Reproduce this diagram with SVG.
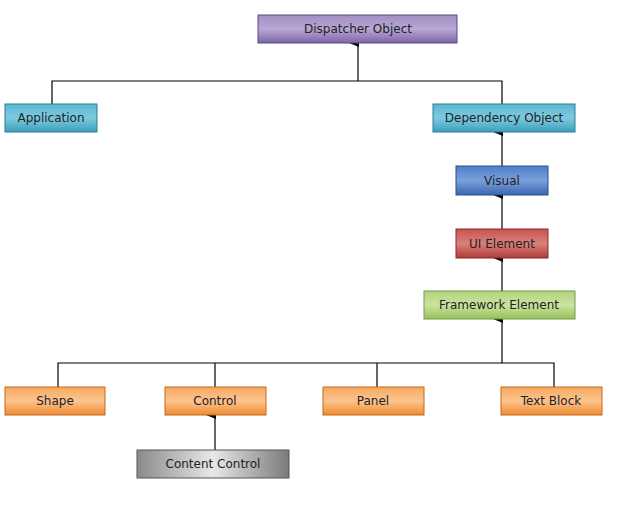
<svg xmlns="http://www.w3.org/2000/svg" width="628" height="506" viewBox="0 0 628 506">
<style>
text{font-family:"DejaVu Sans","Liberation Sans",sans-serif;font-size:12px;text-anchor:middle;fill:#222}
.c{stroke:#000;stroke-width:1.2;fill:none}
</style>
<defs>
<marker id="a" markerWidth="8" markerHeight="10" refX="4" refY="9" orient="auto-start-reverse" markerUnits="userSpaceOnUse" viewBox="0 0 8 10"><path d="M0,10 L4,0 L8,10 Z" fill="#000"/></marker>
<linearGradient id="pu" x1="0" y1="0" x2="0" y2="1"><stop offset="0" stop-color="#a28fc4"/><stop offset="0.5" stop-color="#b6a7d3"/><stop offset="1" stop-color="#7d66a8"/></linearGradient>
<linearGradient id="cy" x1="0" y1="0" x2="0" y2="1"><stop offset="0" stop-color="#5cb8d2"/><stop offset="0.5" stop-color="#7ccadf"/><stop offset="1" stop-color="#3b9fbd"/></linearGradient>
<linearGradient id="bl" x1="0" y1="0" x2="0" y2="1"><stop offset="0" stop-color="#4f7fc8"/><stop offset="0.5" stop-color="#7aa0dc"/><stop offset="1" stop-color="#3a66b0"/></linearGradient>
<linearGradient id="rd" x1="0" y1="0" x2="0" y2="1"><stop offset="0" stop-color="#c85450"/><stop offset="0.5" stop-color="#d9807c"/><stop offset="1" stop-color="#b03c38"/></linearGradient>
<linearGradient id="gr" x1="0" y1="0" x2="0" y2="1"><stop offset="0" stop-color="#b2d27a"/><stop offset="0.5" stop-color="#cbe39f"/><stop offset="1" stop-color="#98c05a"/></linearGradient>
<linearGradient id="or" x1="0" y1="0" x2="0" y2="1"><stop offset="0" stop-color="#f7a85e"/><stop offset="0.5" stop-color="#fbc48f"/><stop offset="1" stop-color="#f08a30"/></linearGradient>
<linearGradient id="gy" x1="0" y1="0" x2="1" y2="0"><stop offset="0" stop-color="#8a8a8a"/><stop offset="0.5" stop-color="#e8e8e8"/><stop offset="1" stop-color="#7a7a7a"/></linearGradient>
</defs>
<g id="connectors">
<path class="c" d="M52,104 V81 H502 V104"/>
<path class="c" d="M358,81 V43" marker-end="url(#a)"/>
<path class="c" d="M502,166 V132" marker-end="url(#a)"/>
<path class="c" d="M502,229 V195" marker-end="url(#a)"/>
<path class="c" d="M502,291 V258" marker-end="url(#a)"/>
<path class="c" d="M502,363 V319" marker-end="url(#a)"/>
<path class="c" d="M58,387 V363 H554 V387 M215,363 V387 M377,363 V387"/>
<path class="c" d="M215,450 V415" marker-end="url(#a)"/>
</g>
<g id="dispatcher"><rect x="258" y="15" width="199" height="28" fill="url(#pu)" stroke="#5a4880"/><text x="358" y="33">Dispatcher Object</text></g>
<g id="application"><rect x="5" y="104" width="92" height="28" fill="url(#cy)" stroke="#2e7d96"/><text x="51" y="122">Application</text></g>
<g id="dependency"><rect x="433" y="104" width="142" height="28" fill="url(#cy)" stroke="#2e7d96"/><text x="504" y="122">Dependency Object</text></g>
<g id="visual"><rect x="456" y="166" width="92" height="29" fill="url(#bl)" stroke="#2c4f8a"/><text x="502" y="185">Visual</text></g>
<g id="uielement"><rect x="456" y="229" width="92" height="29" fill="url(#rd)" stroke="#8a2a28"/><text x="502" y="248">UI Element</text></g>
<g id="framework"><rect x="424" y="291" width="151" height="28" fill="url(#gr)" stroke="#76994a"/><text x="499" y="309">Framework Element</text></g>
<g id="shape"><rect x="5" y="387" width="100" height="28" fill="url(#or)" stroke="#c06a20"/><text x="55" y="405">Shape</text></g>
<g id="control"><rect x="165" y="387" width="101" height="28" fill="url(#or)" stroke="#c06a20"/><text x="215" y="405">Control</text></g>
<g id="panel"><rect x="323" y="387" width="101" height="28" fill="url(#or)" stroke="#c06a20"/><text x="373" y="405">Panel</text></g>
<g id="textblock"><rect x="501" y="387" width="101" height="28" fill="url(#or)" stroke="#c06a20"/><text x="551" y="405">Text Block</text></g>
<g id="contentcontrol"><rect x="137" y="450" width="152" height="28" fill="url(#gy)" stroke="#555"/><text x="213" y="468">Content Control</text></g>
</svg>
